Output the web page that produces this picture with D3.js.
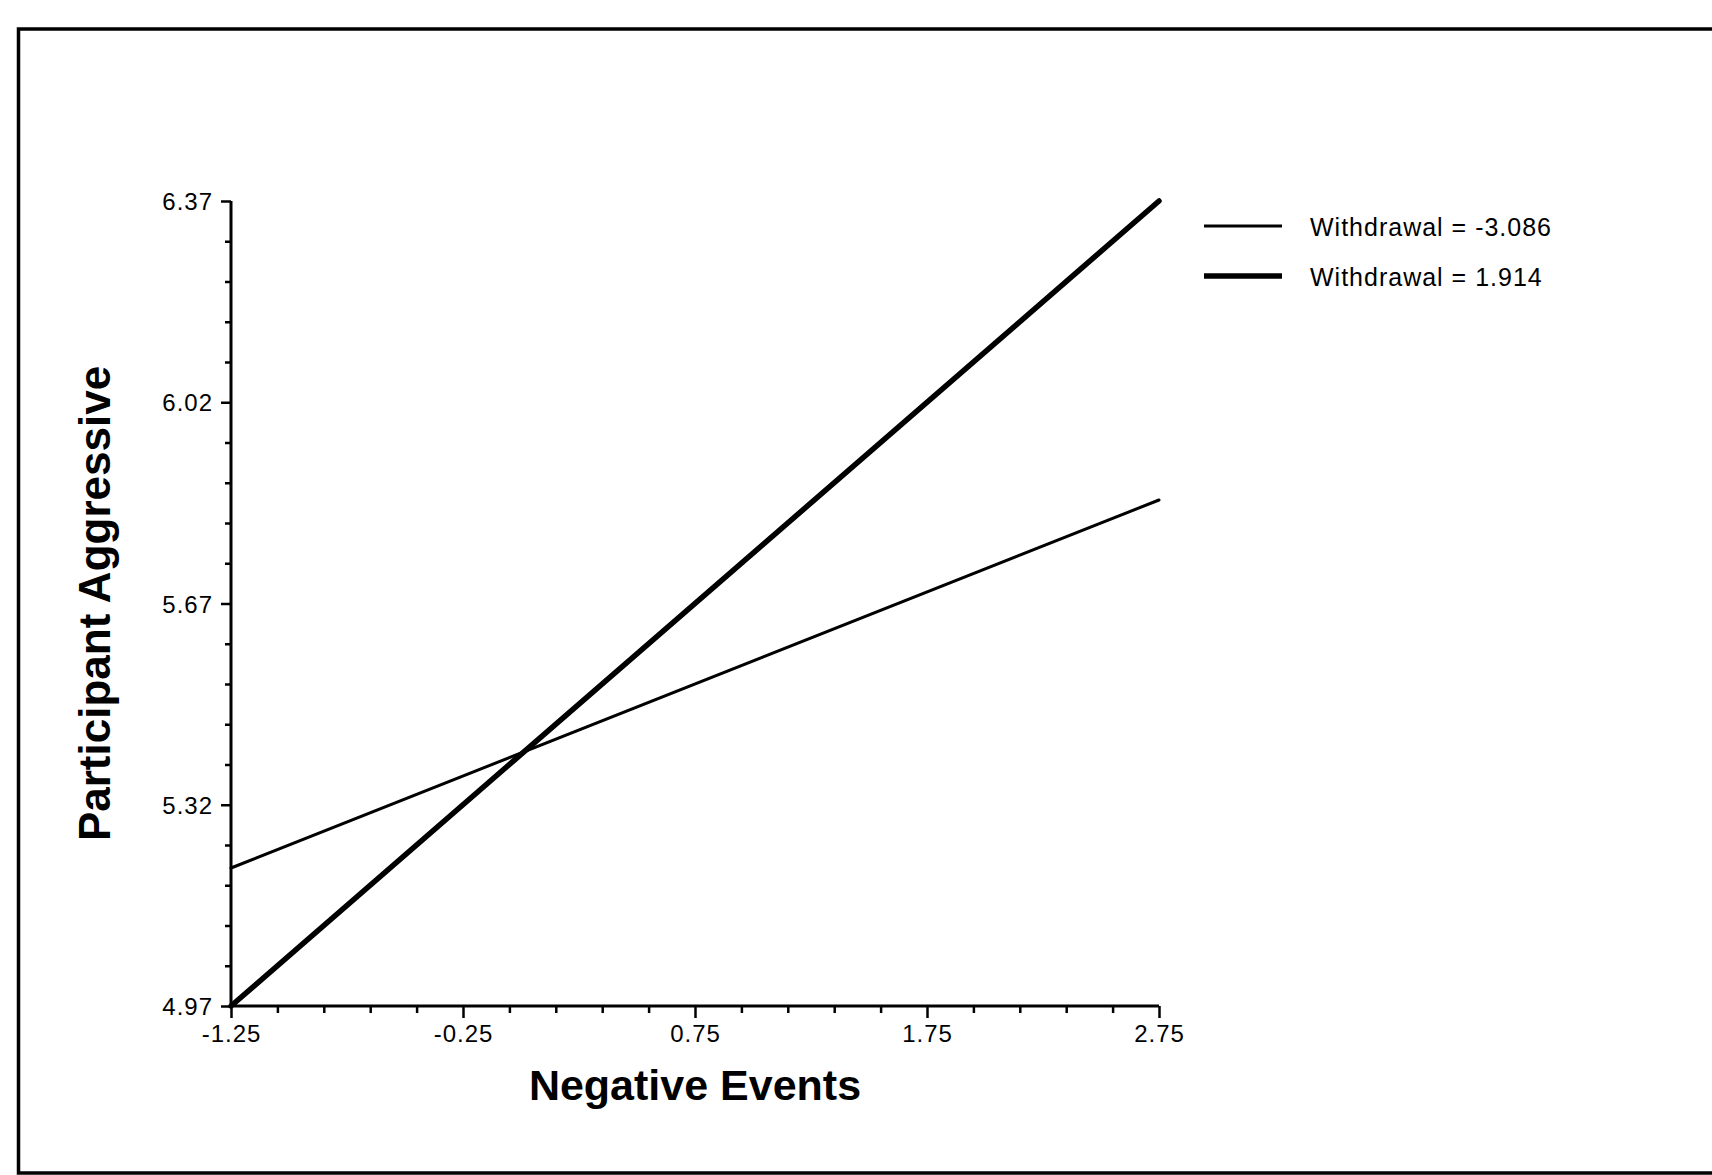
<!DOCTYPE html>
<html>
<head>
<meta charset="utf-8">
<script src="https://cdn.jsdelivr.net/npm/d3@7"></script>
<style>
  html, body { margin: 0; padding: 0; background: #fff; }
  svg { display: block; font-family: "Liberation Sans", Arial, Helvetica, sans-serif; }
</style>
</head>
<body>
<div id="chart"></div>
<script>
// ---- Data ----
const xTickValues = [-1.25, -0.25, 0.75, 1.75, 2.75];
const yTickValues = [4.97, 5.32, 5.67, 6.02, 6.37];
const xLabel = "Negative Events";
const yLabel = "Participant Aggressive";
const seriesNames = ["Withdrawal = -3.086", "Withdrawal = 1.914"];
const seriesX = [-1.25, 2.75];
const lowWithdrawal = [5.21, 5.85];
const highWithdrawal = [4.97, 6.37];
const seriesWidths = [3, 5.5];

const W = 1712, H = 1175;
const svg = d3.select("#chart").append("svg").attr("width", W).attr("height", H);

// frame (left, top, bottom)
svg.append("path")
  .attr("d", `M${W + 5},29 L18.5,29 L18.5,1173 L${W + 5},1173`)
  .attr("fill", "none").attr("stroke", "#000").attr("stroke-width", 3.5);

const x = d3.scaleLinear().domain([-1.25, 2.75]).range([231, 1159]);
const y = d3.scaleLinear().domain([4.97, 6.37]).range([1006, 201]);

const fmt = v => d3.format(".2f")(v).replace("\u2212", "-");

// minor ticks
const xMinor = d3.range(0, 21).map(i => -1.25 + i * 0.2).filter((v, i) => i % 5 !== 0);
const yMinor = d3.range(0, 21).map(i => 4.97 + i * 0.07).filter((v, i) => i % 5 !== 0);

const xMinorAxis = d3.axisBottom(x).tickValues(xMinor).tickSize(7).tickFormat("");
const yMinorAxis = d3.axisLeft(y).tickValues(yMinor).tickSize(6).tickFormat("");
const xAxis = d3.axisBottom(x).tickValues(xTickValues).tickSize(12).tickPadding(4).tickFormat(fmt);
const yAxis = d3.axisLeft(y).tickValues(yTickValues).tickSize(10).tickPadding(7).tickFormat(fmt);

function styleAxis(g) {
  g.select(".domain").attr("stroke", "#000").attr("stroke-width", 3);
  g.selectAll(".tick line").attr("stroke", "#000").attr("stroke-width", 2.5);
  g.selectAll(".tick text").attr("fill", "#000")
    .style("font-size", "24px").style("letter-spacing", "1px")
    .style("font-family", "'Liberation Sans', Arial, sans-serif");
}

svg.append("g").attr("transform", `translate(0,${y(4.97)})`).call(xMinorAxis).call(styleAxis)
  .select(".domain").remove();
svg.append("g").attr("transform", `translate(${x(-1.25)},0)`).call(yMinorAxis).call(styleAxis)
  .select(".domain").remove();
const gx = svg.append("g").attr("transform", `translate(0,${y(4.97)})`).call(xAxis).call(styleAxis);
gx.select(".domain").attr("d", `M${x(-1.25)},0H${x(2.75)}`);
gx.selectAll(".tick text").attr("dy", "0.71em").attr("y", 19);
const gy = svg.append("g").attr("transform", `translate(${x(-1.25)},0)`).call(yAxis).call(styleAxis);
gy.select(".domain").attr("d", `M0,${y(6.37)}V${y(4.97)}`);
gy.selectAll(".tick text").attr("x", -18).attr("dy", "0.36em");

// lines
const line = d3.line().x(d => x(d[0])).y(d => y(d[1]));
[lowWithdrawal, highWithdrawal].forEach((vals, i) => {
  svg.append("path")
    .datum(seriesX.map((xv, j) => [xv, vals[j]]))
    .attr("d", line)
    .attr("fill", "none").attr("stroke", "#000")
    .attr("stroke-width", seriesWidths[i])
    .attr("stroke-linecap", "round");
});

// axis titles
svg.append("text").attr("x", (x(-1.25) + x(2.75)) / 2).attr("y", 1100)
  .attr("text-anchor", "middle").style("font-size", "43px").style("font-weight", "bold")
  .text(xLabel);
svg.append("text").attr("transform", `translate(110,${(y(4.97) + y(6.37)) / 2}) rotate(-90)`)
  .attr("text-anchor", "middle").style("font-size", "44px").style("font-weight", "bold")
  .text(yLabel);

// legend
const legendY = [226, 276];
seriesNames.forEach((name, i) => {
  svg.append("line").attr("x1", 1204).attr("x2", 1282)
    .attr("y1", legendY[i]).attr("y2", legendY[i])
    .attr("stroke", "#000").attr("stroke-width", seriesWidths[i]);
  svg.append("text").attr("x", 1310).attr("y", legendY[i] + 10)
    .style("font-size", "25px").style("letter-spacing", "1px")
    .text(name);
});
</script>
</body>
</html>
